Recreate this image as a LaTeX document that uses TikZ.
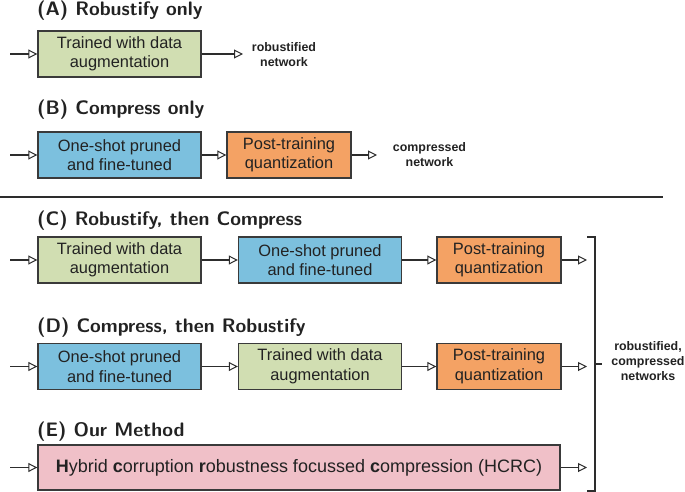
\documentclass[tikz,border=0pt]{standalone}
\usepackage{fontspec}
\newfontfamily\arial{Liberation Sans}
\usetikzlibrary{arrows.meta}
\definecolor{cgreen}{RGB}{209,222,178}
\definecolor{cblue}{RGB}{124,192,222}
\definecolor{corange}{RGB}{244,162,100}
\definecolor{cpink}{RGB}{240,192,200}
\definecolor{cborder}{RGB}{58,58,58}
\definecolor{ctext}{RGB}{34,34,34}
\definecolor{cline}{RGB}{45,45,45}
\tikzset{
  box/.style={draw=cborder, line width=1.4pt, minimum height=46pt, inner sep=0pt,
    align=center, text=ctext, font=\arial\fontsize{16.4}{19.5}\selectfont},
  widebox/.style={box, minimum width=163pt},
  narrowbox/.style={box, minimum width=124pt},
  heading/.style={anchor=base west, inner sep=0pt, text=ctext,
    font=\sffamily\bfseries\fontsize{19.5}{22}\selectfont},
  outlabel/.style={align=center, inner sep=0pt, text=ctext,
    font=\arial\bfseries\fontsize{12.4}{15}\selectfont},
  conn/.style={draw=cline, line width=1.2pt,
    -{Triangle[open, length=9pt, width=9pt, line width=1pt]}},
}
\begin{document}
\begin{tikzpicture}[x=1pt,y=-1pt]
\useasboundingbox (0,0) rectangle (685,492);

% (A)
\node[heading] (hA) at (37,16) {(A) Robustify only};
\node[widebox, fill=cgreen] (A1) at (119.5,54) {Trained with data\\augmentation};
\coordinate (Ain) at (10,54);
\coordinate (Aout) at (243,54);
\draw[conn] (Ain) -- (A1.west);
\draw[conn] (A1.east) -- (Aout);
\node[outlabel] (Alab) at (284,54.5) {robustified\\network};

% (B)
\node[heading] (hB) at (37,114) {(B) Compress only};
\node[widebox, fill=cblue] (B1) at (119.5,155) {One-shot pruned\\and fine-tuned};
\node[narrowbox, fill=corange] (B2) at (289,155) {Post-training\\quantization};
\coordinate (Bin) at (10,155);
\coordinate (Bout) at (377,155);
\draw[conn] (Bin) -- (B1.west);
\draw[conn] (B1.east) -- (B2.west);
\draw[conn] (B2.east) -- (Bout);
\node[outlabel] (Blab) at (429.5,155) {compressed\\network};

% separator
\coordinate (sepL) at (0,197);
\coordinate (sepR) at (663,197);
\draw[draw=cline, line width=2pt] (sepL) -- (sepR);

% (C)
\node[heading] (hC) at (37,225) {(C) Robustify, then Compress};
\node[widebox, fill=cgreen] (C1) at (119.5,260) {Trained with data\\augmentation};
\node[widebox, fill=cblue] (C2) at (320,260) {One-shot pruned\\and fine-tuned};
\node[narrowbox, fill=corange] (C3) at (499,260) {Post-training\\quantization};
\coordinate (Cin) at (10,260);
\coordinate (Cout) at (587,260);
\draw[conn] (Cin) -- (C1.west);
\draw[conn] (C1.east) -- (C2.west);
\draw[conn] (C2.east) -- (C3.west);
\draw[conn] (C3.east) -- (Cout);

% (D)
\node[heading] (hD) at (37,332) {(D) Compress, then Robustify};
\node[widebox, fill=cblue] (D1) at (119.5,366.5) {One-shot pruned\\and fine-tuned};
\node[widebox, fill=cgreen] (D2) at (320,366.5) {Trained with data\\augmentation};
\node[narrowbox, fill=corange] (D3) at (499,366.5) {Post-training\\quantization};
\coordinate (Din) at (10,366.5);
\coordinate (Dout) at (587,366.5);
\draw[conn] (Din) -- (D1.west);
\draw[conn] (D1.east) -- (D2.west);
\draw[conn] (D2.east) -- (D3.west);
\draw[conn] (D3.east) -- (Dout);

% (E)
\node[heading] (hE) at (37,436) {(E) Our Method};
\node[box, minimum width=522pt, minimum height=45pt, fill=cpink,
  font=\arial\fontsize{18}{21}\selectfont] (E1) at (299,467.5)
  {\textbf{H}ybrid \textbf{c}orruption \textbf{r}obustness focussed \textbf{c}ompression (HCRC)};
\coordinate (Ein) at (10,467.5);
\coordinate (Eout) at (587,467.5);
\draw[conn] (Ein) -- (E1.west);
\draw[conn] (E1.east) -- (Eout);

% bracket
\coordinate (brT) at (587,237);
\coordinate (brTR) at (595,237);
\coordinate (brBR) at (595,491);
\coordinate (brB) at (587,491);
\coordinate (brM) at (595,364);
\coordinate (brMt) at (602,364);
\draw[draw=cline, line width=1.2pt] (brT) -- (brTR) -- (brBR) -- (brB);
\draw[draw=cline, line width=1.2pt] (brM) -- (brMt);
\node[outlabel] (Rlab) at (648,361) {robustified,\\compressed\\networks};
\end{tikzpicture}
\end{document}
